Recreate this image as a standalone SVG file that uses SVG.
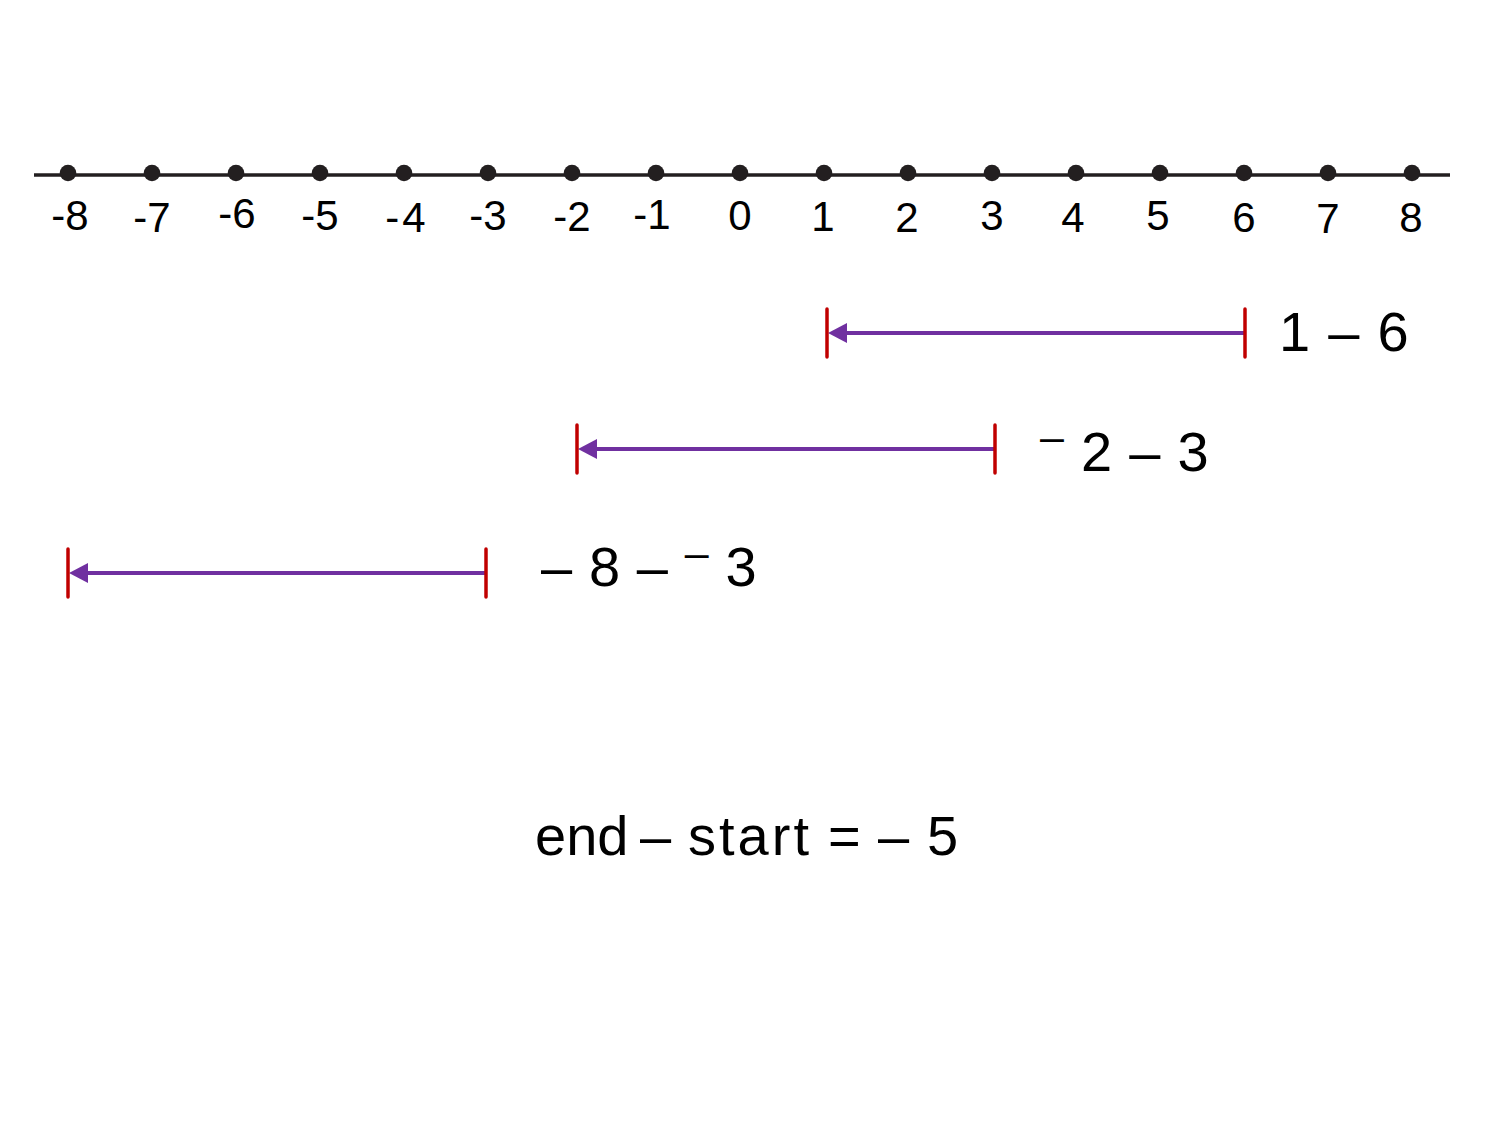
<svg xmlns="http://www.w3.org/2000/svg" width="1502" height="1125" viewBox="0 0 1502 1125">
<style>
.axis{stroke:#231f20;stroke-width:3.5;fill:none}
.dot{fill:#231f20}
.num{font-family:"Liberation Sans",Arial,sans-serif;font-size:42px;fill:#000;text-anchor:middle}
.lbl{font-family:"Liberation Sans",Arial,sans-serif;font-size:56px;fill:#000}
.tick{stroke:#c00000;stroke-width:3.5;stroke-linecap:round}
.arr{stroke:#7030a0;stroke-width:4;fill:none}
</style>
<defs>
<marker id="ah" markerUnits="userSpaceOnUse" markerWidth="20" markerHeight="22" refX="0" refY="11" orient="auto" overflow="visible">
<path d="M0,1 L19,11 L0,21 z" fill="#7030a0"/>
</marker>
</defs>
<rect width="1502" height="1125" fill="#fff"/>
<g id="numberline">
<line class="axis" x1="34" y1="175" x2="1450" y2="175"/>
<g>
<circle class="dot" cx="68" cy="173" r="8.3"/>
<circle class="dot" cx="152" cy="173" r="8.3"/>
<circle class="dot" cx="236" cy="173" r="8.3"/>
<circle class="dot" cx="320" cy="173" r="8.3"/>
<circle class="dot" cx="404" cy="173" r="8.3"/>
<circle class="dot" cx="488" cy="173" r="8.3"/>
<circle class="dot" cx="572" cy="173" r="8.3"/>
<circle class="dot" cx="656" cy="173" r="8.3"/>
<circle class="dot" cx="740" cy="173" r="8.3"/>
<circle class="dot" cx="824" cy="173" r="8.3"/>
<circle class="dot" cx="908" cy="173" r="8.3"/>
<circle class="dot" cx="992" cy="173" r="8.3"/>
<circle class="dot" cx="1076" cy="173" r="8.3"/>
<circle class="dot" cx="1160" cy="173" r="8.3"/>
<circle class="dot" cx="1244" cy="173" r="8.3"/>
<circle class="dot" cx="1328" cy="173" r="8.3"/>
<circle class="dot" cx="1412" cy="173" r="8.3"/>
</g>
<g>
<text class="num" x="70" y="230">-8</text>
<text class="num" x="152" y="232">-7</text>
<text class="num" x="237" y="228">-6</text>
<text class="num" x="320" y="230">-5</text>
<text class="num" x="407" y="232" letter-spacing="3">-4</text>
<text class="num" x="488" y="230">-3</text>
<text class="num" x="572" y="231">-2</text>
<text class="num" x="652" y="229">-1</text>
<text class="num" x="740" y="230">0</text>
<text class="num" x="823" y="231">1</text>
<text class="num" x="907" y="232">2</text>
<text class="num" x="992" y="230">3</text>
<text class="num" x="1073" y="232">4</text>
<text class="num" x="1158" y="230">5</text>
<text class="num" x="1244" y="232">6</text>
<text class="num" x="1328" y="233">7</text>
<text class="num" x="1411" y="232">8</text>
</g>
</g>
<g id="connectors">
<line class="arr" x1="1245" y1="333" x2="847" y2="333" marker-end="url(#ah)"/>
<line class="arr" x1="995" y1="449" x2="597" y2="449" marker-end="url(#ah)"/>
<line class="arr" x1="486" y1="573" x2="88" y2="573" marker-end="url(#ah)"/>
</g>
<g id="interval1">
<line class="tick" x1="827" y1="309" x2="827" y2="357"/>
<line class="tick" x1="1245" y1="309" x2="1245" y2="357"/>
<text class="lbl" x="1279" y="351" word-spacing="2.5">1 – 6</text>
</g>
<g id="interval2">
<line class="tick" x1="577" y1="425" x2="577" y2="473"/>
<line class="tick" x1="995" y1="425" x2="995" y2="473"/>
<text class="lbl" x="1040" y="471" word-spacing="1.5"><tspan font-size="43" dy="-20">–</tspan><tspan dy="20"> 2 – 3</tspan></text>
</g>
<g id="interval3">
<line class="tick" x1="68" y1="549" x2="68" y2="597"/>
<line class="tick" x1="486" y1="549" x2="486" y2="597"/>
<text class="lbl" x="541" y="586" word-spacing="1.2">– 8 – <tspan font-size="43" dy="-19">–</tspan><tspan dy="19"> 3</tspan></text>
</g>
<g id="formula">
<text class="lbl" y="855" font-size="57"><tspan x="535">end</tspan> <tspan x="640">–</tspan> <tspan x="688" textLength="121" lengthAdjust="spacing">start</tspan> <tspan x="828">=</tspan> <tspan x="878">–</tspan> <tspan x="927">5</tspan></text>
</g>
</svg>
